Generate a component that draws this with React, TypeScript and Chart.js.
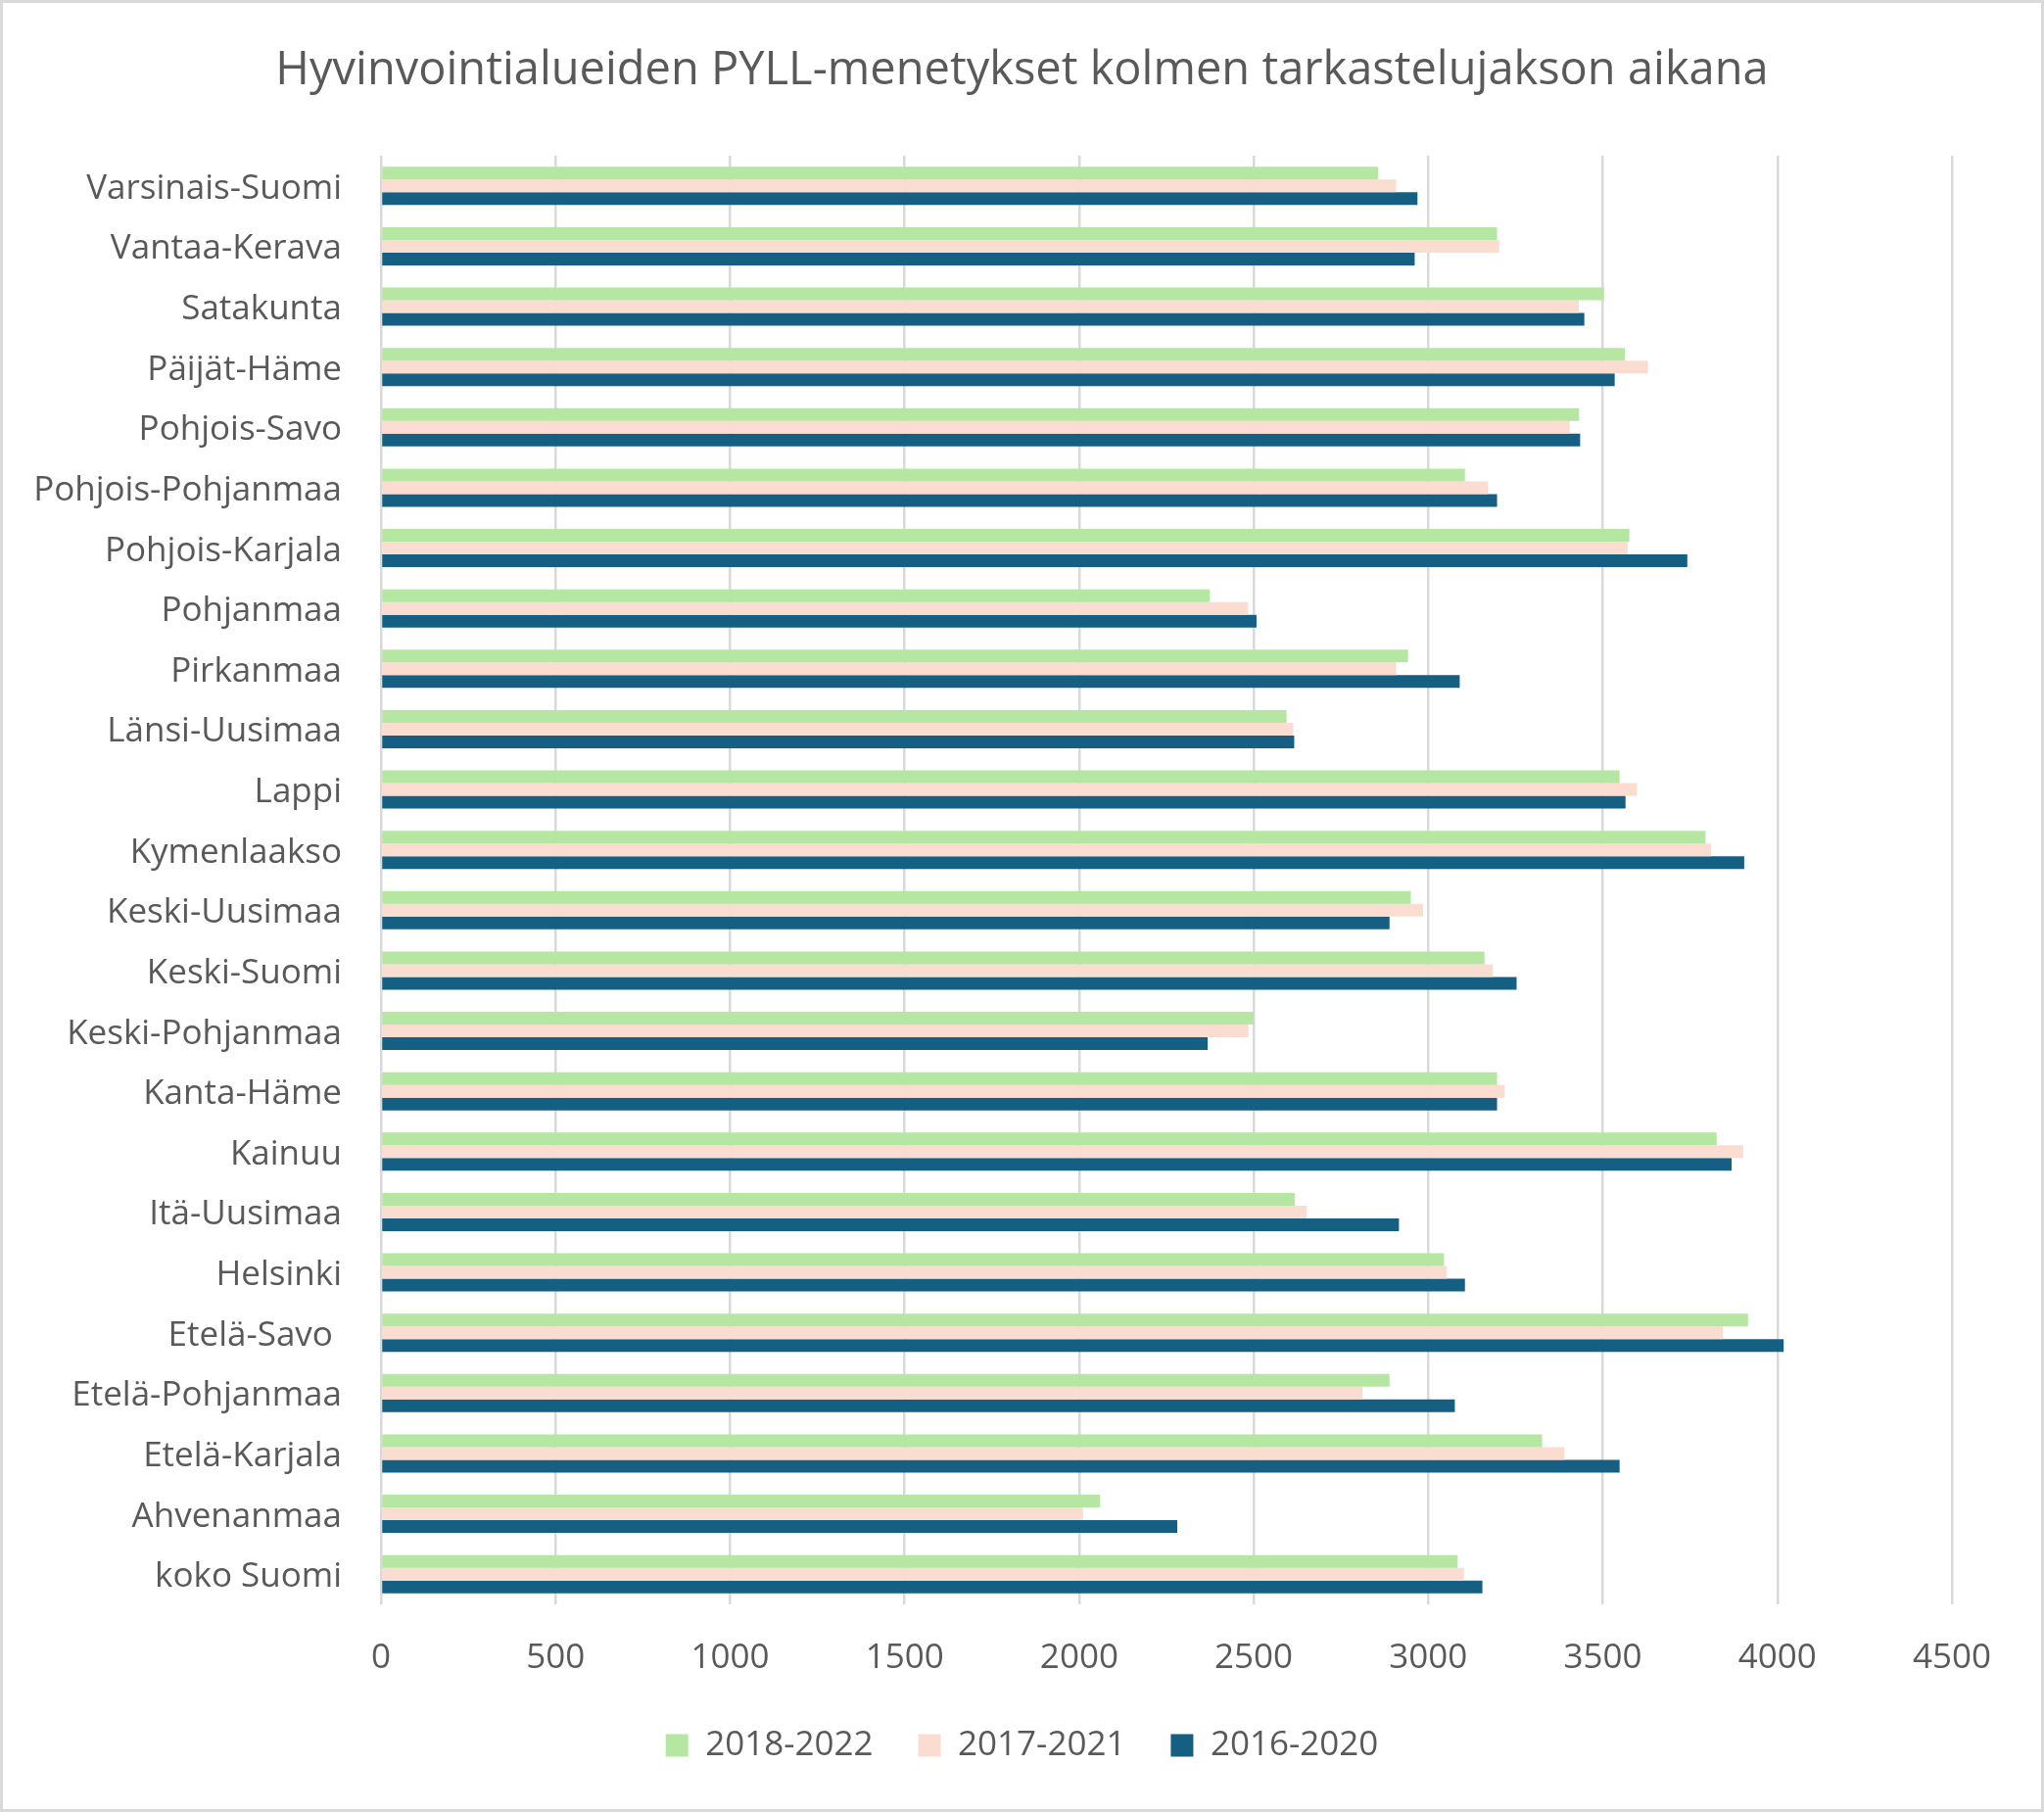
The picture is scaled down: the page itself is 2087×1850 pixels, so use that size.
import React, { useEffect, useRef } from "react";
import { Chart, registerables } from "chart.js";

Chart.register(...registerables);

const TITLE = "Hyvinvointialueiden PYLL-menetykset kolmen tarkastelujakson aikana";

const categories = [
  "Varsinais-Suomi",
  "Vantaa-Kerava",
  "Satakunta",
  "Päijät-Häme",
  "Pohjois-Savo",
  "Pohjois-Pohjanmaa",
  "Pohjois-Karjala",
  "Pohjanmaa",
  "Pirkanmaa",
  "Länsi-Uusimaa",
  "Lappi",
  "Kymenlaakso",
  "Keski-Uusimaa",
  "Keski-Suomi",
  "Keski-Pohjanmaa",
  "Kanta-Häme",
  "Kainuu",
  "Itä-Uusimaa",
  "Helsinki",
  "Etelä-Savo ",
  "Etelä-Pohjanmaa",
  "Etelä-Karjala",
  "Ahvenanmaa",
  "koko Suomi",
];

const seriesNames = ["2018-2022", "2017-2021", "2016-2020"];

const values2018_2022 = [2856, 3197, 3503, 3563, 3432, 3105, 3576, 2374, 2942, 2594, 3548, 3794, 2950, 3161, 2500, 3197, 3826, 2618, 3045, 3916, 2889, 3326, 2060, 3084];
const values2017_2021 = [2908, 3203, 3431, 3629, 3405, 3171, 3571, 2484, 2908, 2613, 3598, 3810, 2985, 3185, 2485, 3219, 3902, 2652, 3053, 3844, 2811, 3390, 2011, 3102];
const values2016_2020 = [2969, 2961, 3447, 3534, 3435, 3197, 3742, 2508, 3090, 2616, 3565, 3905, 2889, 3253, 2368, 3197, 3869, 2916, 3105, 4018, 3076, 3548, 2281, 3155];

const xTickValues = [0, 500, 1000, 1500, 2000, 2500, 3000, 3500, 4000, 4500];

const seriesColors = ["#b5e6a2", "#fadcd1", "#156082"];

const TEXT_COLOR = "#595959";
const GRID_COLOR = "#d9d9d9";
const FONT = "'Open Sans', 'DejaVu Sans', sans-serif";

export default function App() {
  const canvasRef = useRef<HTMLCanvasElement | null>(null);

  useEffect(() => {
    const canvas = canvasRef.current;
    if (!canvas) return;
    const seriesValues = [values2018_2022, values2017_2021, values2016_2020];
    const chart = new Chart(canvas, {
      type: "bar",
      data: {
        labels: categories,
        datasets: seriesNames.map((name, i) => ({
          label: name,
          data: seriesValues[i],
          backgroundColor: seriesColors[i],
          borderWidth: 0,
          categoryPercentage: 0.633,
          barPercentage: 1.0,
        })),
      },
      options: {
        indexAxis: "y",
        responsive: false,
        devicePixelRatio: 1,
        animation: false,
        layout: { padding: { top: 0, left: 0, right: 0, bottom: 37.5 } },
        plugins: {
          title: {
            display: true,
            text: TITLE,
            color: TEXT_COLOR,
            font: { family: FONT, size: 47, weight: "normal" },
            padding: { top: 41.3, bottom: 58.3 },
          },
          legend: {
            display: true,
            position: "bottom",
            labels: {
              boxWidth: 23,
              boxHeight: 23,
              padding: 46,
              color: TEXT_COLOR,
              font: { family: FONT, size: 35 },
            },
          },
          tooltip: { enabled: false },
        },
        scales: {
          x: {
            type: "linear",
            position: "bottom",
            min: 0,
            max: 4500,
            afterBuildTicks: (scale: any) => {
              scale.ticks = xTickValues.map((v) => ({ value: v }));
            },
            afterFit: (scale: any) => {
              scale.height = 80.5;
            },
            grid: { color: GRID_COLOR, lineWidth: 2.5, drawTicks: false },
            border: { display: false },
            ticks: {
              color: TEXT_COLOR,
              font: { family: FONT, size: 35 },
              padding: 34,
              maxRotation: 0,
              autoSkip: false,
              callback: (value: any) => String(value),
            },
          },
          y: {
            type: "category",
            position: "left",
            afterFit: (scale: any) => {
              scale.width = 386;
            },
            grid: { display: false, drawTicks: false },
            border: { display: false },
            ticks: {
              color: TEXT_COLOR,
              font: { family: FONT, size: 35 },
              padding: 40,
              labelOffset: 3,
              autoSkip: false,
            },
          },
          yRight: {
            type: "category",
            position: "right",
            labels: categories,
            afterFit: (scale: any) => {
              scale.width = 91;
            },
            grid: { display: false, drawTicks: false },
            border: { display: false },
            ticks: { display: false },
          },
        },
      },
    } as any);
    return () => chart.destroy();
  }, []);

  return (
    <div
      style={{
        position: "absolute",
        left: 0,
        top: 0,
        width: 2087,
        height: 1850,
        boxSizing: "border-box",
        border: "3px solid #d9d9d9",
        background: "#ffffff",
      }}
    >
      <canvas ref={canvasRef} width={2081} height={1844} style={{ display: "block", width: 2081, height: 1844 }} />
    </div>
  );
}
